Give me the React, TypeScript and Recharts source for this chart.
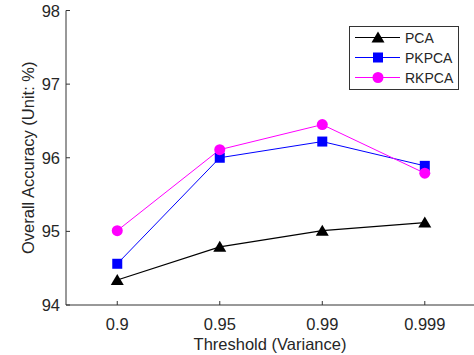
import React from 'react';
import { LineChart, Line, XAxis, YAxis, Legend, Label } from 'recharts';

const thresholds = ['0.9', '0.95', '0.99', '0.999'];
const pca = [94.34, 94.79, 95.01, 95.12];
const pkpca = [94.56, 96.0, 96.22, 95.89];
const rkpca = [95.01, 96.11, 96.45, 95.79];
const yTicks = [94, 95, 96, 97, 98];

const data = thresholds.map((t, i) => ({
  idx: i,
  threshold: t,
  PCA: pca[i],
  PKPCA: pkpca[i],
  RKPCA: rkpca[i],
}));

const AXIS = '#333333';
const TEXT = '#262626';
const FONT = '"Liberation Sans", Arial, sans-serif';

const series = [
  { key: 'PCA', color: '#000000', shape: 'triangle', width: 1.2 },
  { key: 'PKPCA', color: '#0000ff', shape: 'square', width: 1 },
  { key: 'RKPCA', color: '#ff00ff', shape: 'circle', width: 1 },
];

const Marker = ({ shape, color, cx, cy }: any) => {
  if (cx == null || cy == null) return null;
  if (shape === 'triangle')
    return <path d={`M${cx},${cy - 6}L${cx + 6.5},${cy + 5}L${cx - 6.5},${cy + 5}Z`} fill={color} />;
  if (shape === 'square')
    return <rect x={cx - 5} y={cy - 5} width={10} height={10} fill={color} />;
  return <circle cx={cx} cy={cy} r={5.5} fill={color} />;
};

// MATLAB style: ticks point inward
const XTick = ({ x, y, payload }: any) => (
  <g>
    <line x1={x} x2={x} y1={y} y2={y - 4} stroke={AXIS} />
    <text x={x} y={y + 25} textAnchor="middle" fill={TEXT} fontSize={16.5} fontFamily={FONT}>
      {thresholds[payload.value]}
    </text>
  </g>
);

const YTick = ({ x, y, payload }: any) => (
  <g>
    <line x1={x} x2={x + 4} y1={y} y2={y} stroke={AXIS} />
    <text x={x - 6} y={y + 6} textAnchor="end" fill={TEXT} fontSize={16.5} fontFamily={FONT}>
      {payload.value}
    </text>
  </g>
);

const YTitle = ({ viewBox }: any) => {
  const cx = viewBox.x + 28;
  const cy = viewBox.y + viewBox.height / 2;
  return (
    <text
      x={cx}
      y={cy}
      transform={`rotate(-90 ${cx} ${cy})`}
      textAnchor="middle"
      dominantBaseline="central"
      fill={TEXT}
      fontSize={16.5}
      fontFamily={FONT}
    >
      Overall Accuracy (Unit: %)
    </text>
  );
};

const XTitle = ({ viewBox }: any) => (
  <text
    x={viewBox.x + viewBox.width / 2}
    y={viewBox.y + 45}
    textAnchor="middle"
    fill={TEXT}
    fontSize={16.5}
    fontFamily={FONT}
  >
    Threshold (Variance)
  </text>
);

const LegendBox = () => (
  <svg width={110} height={64} style={{ display: 'block' }}>
    <rect x={0.5} y={0.5} width={109} height={63} fill="#fff" stroke="#333" />
    {series.map((s, i) => {
      const cy = 11.5 + 20 * i;
      return (
        <g key={s.key}>
          <line x1={6} x2={51} y1={cy} y2={cy} stroke={s.color} strokeWidth={s.width} />
          <Marker shape={s.shape} color={s.color} cx={29} cy={cy} />
          <text x={56} y={cy + 5} fill={TEXT} fontSize={14} fontFamily={FONT}>
            {s.key}
          </text>
        </g>
      );
    })}
  </svg>
);

export default function App() {
  return (
    <div style={{ position: 'fixed', left: 0, top: 0, background: '#fff' }}>
      <LineChart width={474} height={355} data={data} margin={{ top: 10.5, right: 0, bottom: 0, left: 0 }}>
        <XAxis
          dataKey="idx"
          type="number"
          domain={[-0.5, 3.48]}
          ticks={[0, 1, 2, 3]}
          allowDataOverflow
          height={50}
          stroke={AXIS}
          tickSize={0}
          tickMargin={0}
          tickLine={false}
          tick={<XTick />}
        >
          <Label content={<XTitle />} />
        </XAxis>
        <YAxis
          type="number"
          domain={[94, 98]}
          ticks={yTicks}
          width={66}
          stroke={AXIS}
          tickSize={0}
          tickMargin={0}
          tickLine={false}
          tick={<YTick />}
        >
          <Label content={<YTitle />} />
        </YAxis>
        <Legend
          layout="horizontal"
          verticalAlign="middle"
          align="center"
          content={<LegendBox />}
          wrapperStyle={{ position: 'absolute', left: 349, top: 26, width: 'auto' }}
        />
        {series.map((s) => (
          <Line
            key={s.key}
            dataKey={s.key}
            stroke={s.color}
            strokeWidth={s.width}
            isAnimationActive={false}
            activeDot={false}
            dot={(p: any) => <Marker key={`${s.key}-${p.index}`} shape={s.shape} color={s.color} cx={p.cx} cy={p.cy} />}
          />
        ))}
      </LineChart>
    </div>
  );
}
